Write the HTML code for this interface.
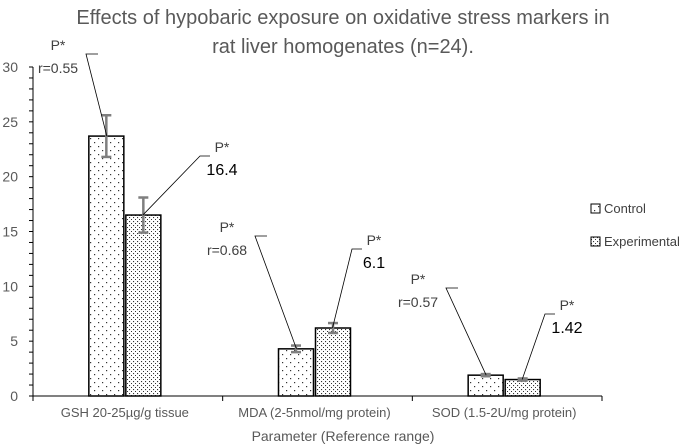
<!DOCTYPE html>
<html><head><meta charset="utf-8"><style>
body{margin:0;background:#fff;}
svg{display:block;font-family:"Liberation Sans",sans-serif;}
</style></head><body>
<svg id="c" width="685" height="446">
<defs>
<pattern id="pc" width="8" height="8" patternUnits="userSpaceOnUse"><rect width="8" height="8" fill="#fff"/><rect x="2" y="2" width="1.2" height="1.2" fill="#333"/><rect x="6" y="6" width="1.2" height="1.2" fill="#333"/></pattern>
<pattern id="pe" width="4" height="4" patternUnits="userSpaceOnUse"><rect width="4" height="4" fill="#fff"/><rect x="1" y="1" width="1.1" height="1.1" fill="#333"/><rect x="3" y="3" width="1.1" height="1.1" fill="#333"/></pattern>
</defs>
<text x="343" y="24" text-anchor="middle" font-size="20" fill="#595959">Effects of hypobaric exposure on oxidative stress markers in</text>
<text x="343" y="53" text-anchor="middle" font-size="20" fill="#595959">rat liver homogenates (n=24).</text>
<text x="343" y="441" text-anchor="middle" font-size="14" fill="#595959">Parameter (Reference range)</text>
<g id="g"></g>
<rect x="591" y="204" width="9" height="9" fill="url(#pc)" stroke="#000"/>
<text x="604" y="213" font-size="13" fill="#404040">Control</text>
<rect x="591" y="237" width="9" height="9" fill="url(#pe)" stroke="#000"/>
<text x="604" y="246" font-size="13" fill="#404040">Experimental</text>
</svg>
<script>
const categories=["GSH 20-25µg/g tissue","MDA (2-5nmol/mg protein)","SOD (1.5-2U/mg protein)"];
const controlVals=[23.7,4.3,1.9];
const expVals=[16.5,6.2,1.5];
const controlErr=[1.9,0.3,0.1];
const expErr=[1.6,0.45,0.1];
const yTicks=[0,5,10,15,20,25,30];
const ctrlLabels=[["P*","r=0.55"],["P*","r=0.68"],["P*","r=0.57"]];
const expLabels=[["P*","16.4"],["P*","6.1"],["P*","1.42"]];
const NS="http://www.w3.org/2000/svg",g=document.getElementById('g');
const X0=33,X1=602,Y0=396,Y1=67;
const y=v=>Y0-(v/30)*(Y0-Y1);
const bw=(X1-X0)/categories.length;
function mk(t,a,p){const e=document.createElementNS(NS,t);for(const k in a)e.setAttribute(k,a[k]);(p||g).appendChild(e);return e;}
let ax=mk('line',{x1:X0,y1:Y1,x2:X0,y2:Y0,stroke:'#000'});


for(let v=0;v<=30;v++){mk('line',{x1:X0-4,x2:X0,y1:y(v),y2:y(v),stroke:'#000'});}
yTicks.forEach(v=>{const t=mk('text',{x:18,y:y(v)+5,'font-size':14,fill:'#595959','text-anchor':'end'});t.textContent=v;

});
let xa=mk('line',{x1:X0,y1:Y0,x2:X1,y2:Y0,stroke:'#000'});


for(let i=0;i<=categories.length;i++)mk('line',{x1:X0+i*bw,x2:X0+i*bw,y1:Y0,y2:Y0+5,stroke:'#000'});
function label(lines,lx,ly,tx,ty,boldSecond,anchorRight){
  const t1=mk('text',{x:lx,y:ly,'font-size':14,fill:'#404040','text-anchor':'middle'});t1.textContent=lines[0];
  
  
  const t2=mk('text',{x:lx,y:ly+23,'font-size':boldSecond?16:14,fill:boldSecond?'#000':'#404040','text-anchor':'middle'});t2.textContent=lines[1];
  
  
  const hx=anchorRight?lx+28:lx-22, hy=ly+4, ex=anchorRight?lx+40:lx-12;
  mk('polyline',{points:`${ex},${hy} ${hx},${hy} ${tx},${ty}`,fill:'none',stroke:'#000','stroke-width':0.8});
}
categories.forEach((c,i)=>{
  const cx=X0+bw*i+bw/2-3;
  const bars=[[controlVals[i],controlErr[i],'url(#pc)',cx-36,'control'],[expVals[i],expErr[i],'url(#pe)',cx+1,'experimental']];
  bars.forEach(([v,e,f,x,n])=>{
    const r=mk('rect',{x:x,y:y(v),width:35,height:Y0-y(v),fill:f,stroke:'#000','stroke-width':1.5});
    
    
    const mx=x+17.5;
    mk('line',{x1:mx,x2:mx,y1:y(v-e),y2:y(v+e),stroke:'#7f7f7f','stroke-width':2.5});
    mk('line',{x1:mx-5,x2:mx+5,y1:y(v-e),y2:y(v-e),stroke:'#7f7f7f','stroke-width':2.5});
    mk('line',{x1:mx-5,x2:mx+5,y1:y(v+e),y2:y(v+e),stroke:'#7f7f7f','stroke-width':2.5});
  });
  const t=mk('text',{x:cx,y:417,'font-size':13,fill:'#595959','text-anchor':'middle'});t.textContent=c;
  
  
});
const cl=[[58,50],[227,232],[418,284]];
const el=[[222,152],[374,245],[567,310]];
categories.forEach((c,i)=>{
  const cx=X0+bw*i+bw/2-3;
  label(ctrlLabels[i],cl[i][0],cl[i][1],cx-18,y(controlVals[i]),false,true);
  label(expLabels[i],el[i][0],el[i][1],cx+18,y(expVals[i]),true,false);
});
</script>
</body></html>
